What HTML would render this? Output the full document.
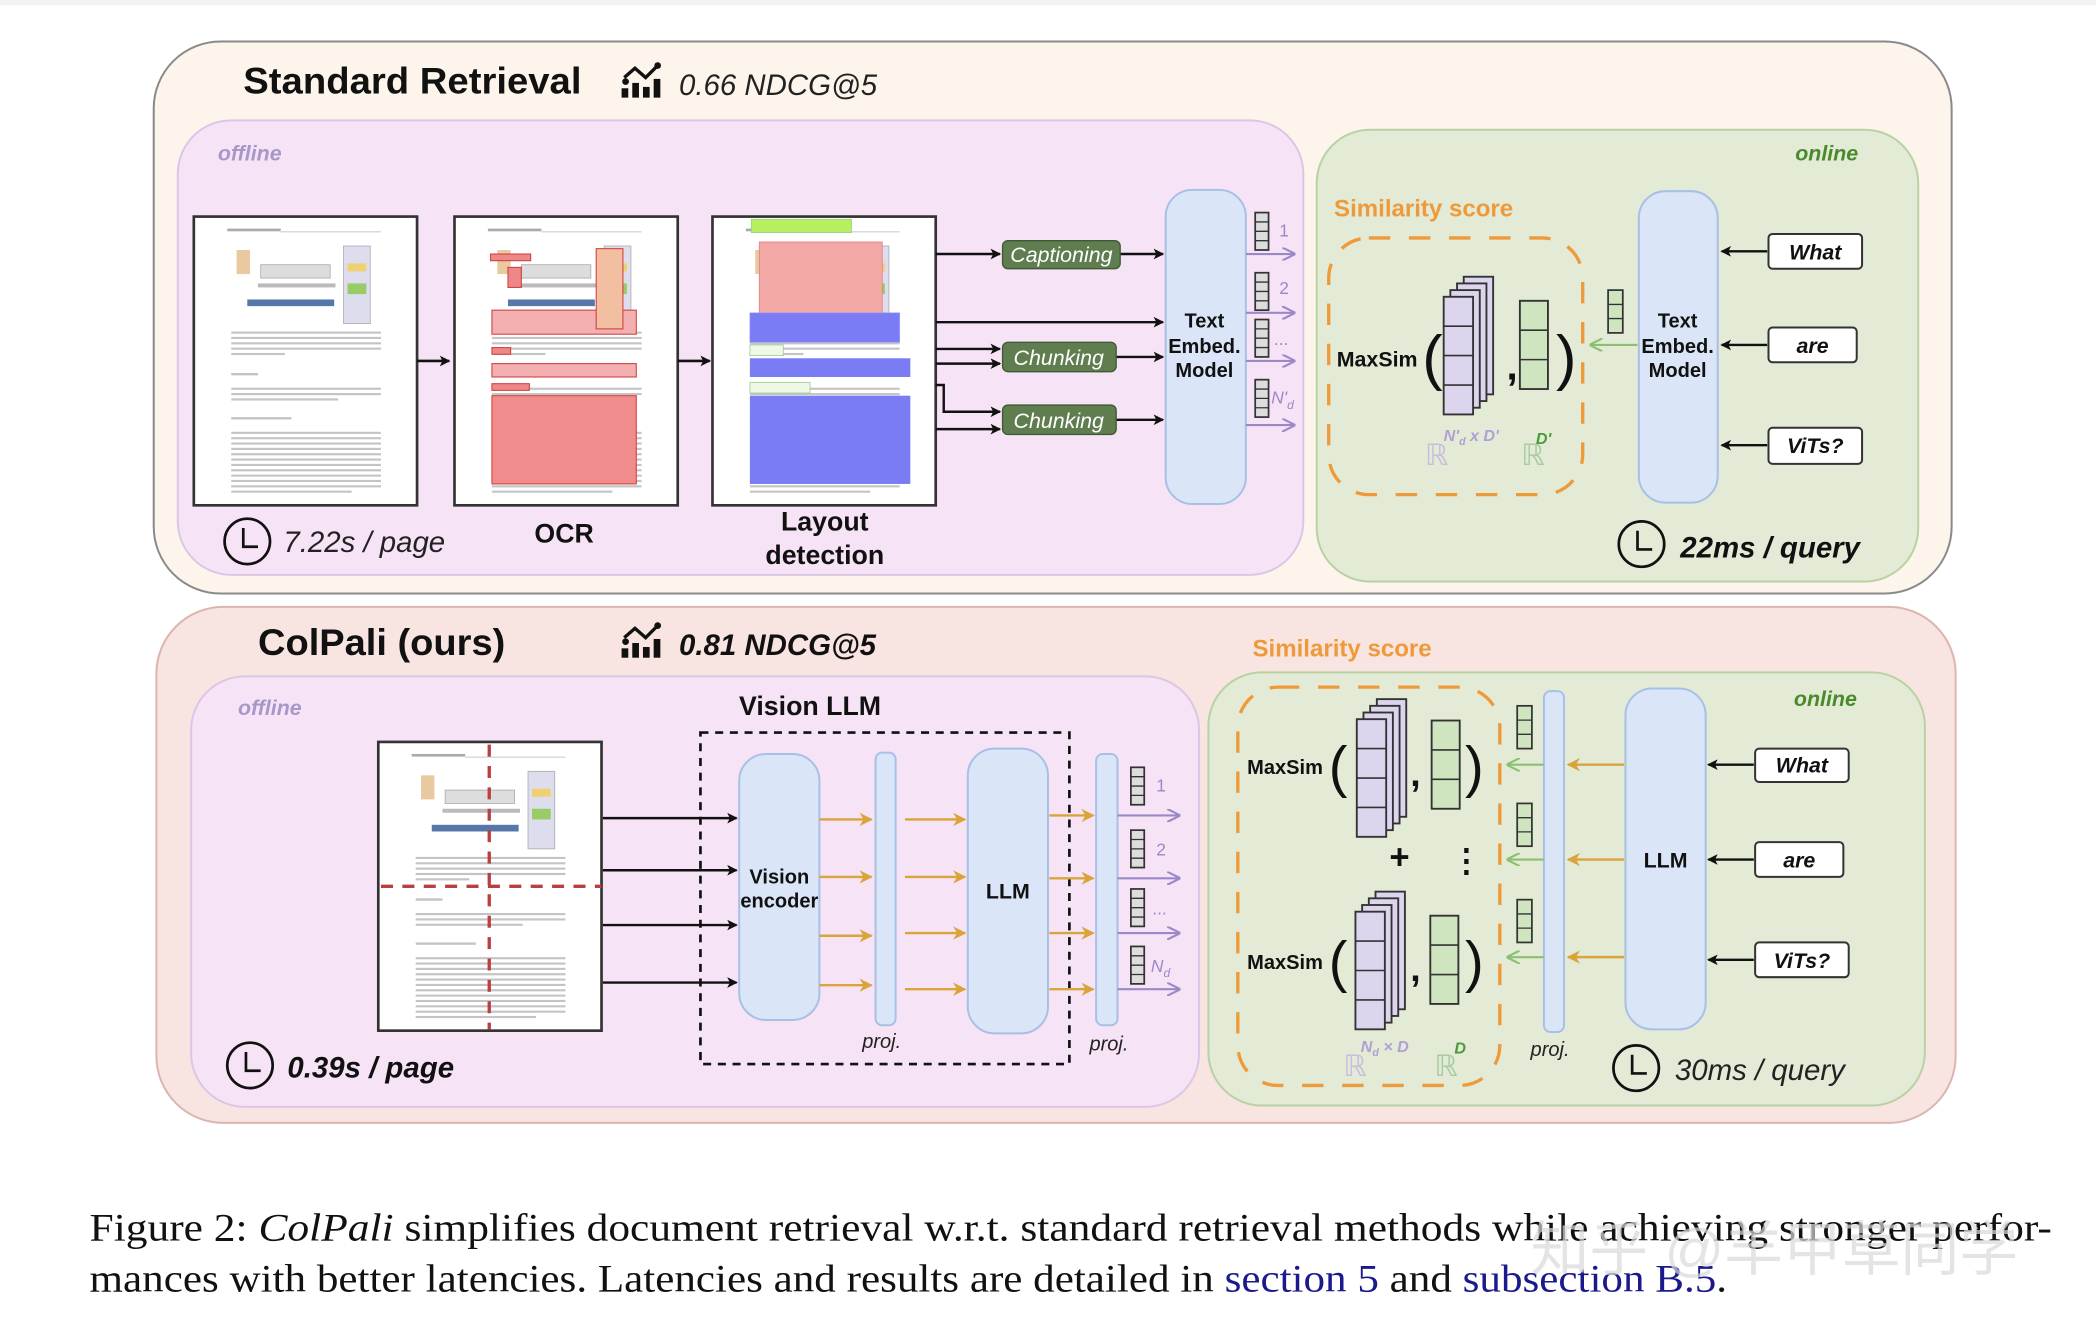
<!DOCTYPE html>
<html><head><meta charset="utf-8"><style>
html,body{margin:0;padding:0;background:#fff;}
svg{display:block;}
text{font-family:"Liberation Sans",Arial,sans-serif;}
text.serif{font-family:"Liberation Serif","Times New Roman",serif;}
text.wm{font-family:"Liberation Sans","Noto Sans CJK SC",sans-serif;}
</style></head><body>
<svg width="2096" height="1336" viewBox="0 0 1568 999.4" xmlns="http://www.w3.org/2000/svg">
<defs>
<marker id="ak" markerWidth="8" markerHeight="8" refX="7" refY="4" orient="auto" markerUnits="userSpaceOnUse"><path d="M0,0 L8,4 L0,8 L2,4 z" fill="#111"/></marker>
<marker id="ap" markerWidth="10" markerHeight="10" refX="9" refY="5" orient="auto" markerUnits="userSpaceOnUse"><path d="M0,0 L10,5 L0,10" fill="none" stroke="#9b88c9" stroke-width="1.6"/></marker>
<marker id="ao" markerWidth="10" markerHeight="10" refX="9" refY="5" orient="auto" markerUnits="userSpaceOnUse"><path d="M0,0 L10,5 L0,10 L3,5 z" fill="#d9a43a"/></marker>
<marker id="ag" markerWidth="10" markerHeight="10" refX="9" refY="5" orient="auto" markerUnits="userSpaceOnUse"><path d="M0,0 L10,5 L0,10" fill="none" stroke="#8cc070" stroke-width="1.6"/></marker>
<g id="doc">
<rect x="0" y="0" width="167" height="216" fill="#fff" stroke="#333" stroke-width="2"/>
<rect x="25" y="9" width="40" height="2" fill="#aaa"/><rect x="65" y="11" width="75" height="0.8" fill="#ccc"/>
<rect x="32" y="25" width="10" height="18" fill="#e8c9a0"/><rect x="50" y="36" width="52" height="10" fill="#ddd" stroke="#aaa" stroke-width="0.6"/>
<rect x="48" y="50" width="58" height="3" fill="#bbb"/><rect x="40" y="62" width="65" height="5" fill="#5577aa"/>
<rect x="112" y="22" width="20" height="58" fill="#dde" stroke="#aaa" stroke-width="0.6"/><rect x="115" y="35" width="14" height="6" fill="#f0d070"/><rect x="115" y="50" width="14" height="8" fill="#9c6"/>
<g fill="#c4c4c4">
<rect x="28" y="86" width="112" height="1.6"/><rect x="28" y="90" width="112" height="1.6"/><rect x="28" y="94" width="112" height="1.6"/><rect x="28" y="98" width="112" height="1.6"/><rect x="28" y="102" width="40" height="1.6"/>
<rect x="28" y="117" width="20" height="1.8"/>
<rect x="28" y="128" width="112" height="1.6"/><rect x="28" y="132" width="112" height="1.6"/><rect x="28" y="136" width="80" height="1.6"/>
<rect x="28" y="150" width="45" height="1.8"/>
<rect x="28" y="161" width="112" height="1.6"/><rect x="28" y="165" width="112" height="1.6"/><rect x="28" y="169" width="112" height="1.6"/><rect x="28" y="173" width="112" height="1.6"/><rect x="28" y="177" width="112" height="1.6"/><rect x="28" y="181" width="112" height="1.6"/><rect x="28" y="185" width="112" height="1.6"/><rect x="28" y="189" width="112" height="1.6"/><rect x="28" y="193" width="112" height="1.6"/><rect x="28" y="197" width="112" height="1.6"/><rect x="28" y="201" width="112" height="1.6"/><rect x="28" y="205" width="90" height="1.6"/>
</g></g>
<g id="pst">
<rect x="15" y="-15" width="22" height="88" fill="#ddd5ee" stroke="#333" stroke-width="1.4"/>
<rect x="10" y="-10" width="22" height="88" fill="#ddd5ee" stroke="#333" stroke-width="1.4"/>
<rect x="5" y="-5" width="22" height="88" fill="#ddd5ee" stroke="#333" stroke-width="1.4"/>
<rect x="0" y="0" width="22" height="88" fill="#ddd5ee" stroke="#333" stroke-width="1.4"/>
<path d="M0,22H22M0,44H22M0,66H22" stroke="#333" stroke-width="1.2"/>
</g>
<g id="gcol"><rect x="0" y="0" width="21" height="66" fill="#cfe5bf" stroke="#333" stroke-width="1.4"/><path d="M0,22H21M0,44H21" stroke="#333" stroke-width="1.2"/></g>
<g id="vp"><rect x="0" y="0" width="10" height="28" fill="#ddd" stroke="#333" stroke-width="1.3"/><path d="M0,7H10M0,14H10M0,21H10" stroke="#333" stroke-width="1"/></g>
<g id="vg"><rect x="0" y="0" width="11" height="32" fill="#cfe5bf" stroke="#333" stroke-width="1.3"/><path d="M0,10.7H11M0,21.3H11" stroke="#333" stroke-width="1"/></g>
<g id="clk"><circle cx="0" cy="0" r="17" fill="none" stroke="#111" stroke-width="2"/><path d="M-3,-10V4H8" fill="none" stroke="#111" stroke-width="2"/></g>
<g id="ico"><circle cx="3" cy="14" r="2.5" fill="#111"/><rect x="0" y="19" width="5" height="7" fill="#111"/><rect x="8" y="15" width="5" height="11" fill="#111"/><rect x="16" y="18" width="5" height="8" fill="#111"/><rect x="24" y="12" width="5" height="14" fill="#111"/><path d="M2,11 L10,4 L18,11 L27,2" fill="none" stroke="#111" stroke-width="2.5"/><circle cx="27" cy="2" r="2.5" fill="#111"/></g>
</defs>
<rect x="0" y="0" width="1568" height="4" fill="#f3f3f3"/>

<!-- ===== TOP ===== -->
<rect x="115" y="31" width="1345" height="413" rx="50" fill="#fdf5eb" stroke="#8a8a8a" stroke-width="1.5"/>
<text x="182" y="70" font-size="27.5" font-weight="bold" fill="#111" textLength="253" lengthAdjust="spacingAndGlyphs">Standard Retrieval</text>
<use href="#ico" x="465" y="47"/>
<text x="508" y="71" font-size="22" font-style="italic" fill="#222">0.66 NDCG@5</text>

<rect x="133" y="90" width="842" height="340" rx="40" fill="#f7e3f6" stroke="#dcc6e6" stroke-width="1.5"/>
<text x="163" y="120" font-size="16" font-style="italic" font-weight="bold" fill="#a898c8">offline</text>
<use href="#doc" x="145" y="162"/>
<use href="#doc" x="340" y="162"/>
<g fill="none" stroke="#d04040" stroke-width="0.8">
<rect x="367" y="190" width="30" height="5" fill="#e88" /><rect x="368" y="232" width="108" height="18" fill="#f4b0b0"/><rect x="368" y="260" width="14" height="5" fill="#e88"/><rect x="368" y="272" width="108" height="10" fill="#f4b0b0"/><rect x="368" y="287" width="28" height="5" fill="#e88"/><rect x="368" y="296" width="108" height="66" fill="#f08c8c"/>
<rect x="380" y="200" width="10" height="15" fill="#e88"/><rect x="446" y="186" width="20" height="60" fill="#f2c0a0"/>
</g>
<use href="#doc" x="533" y="162"/>
<g>
<rect x="562" y="164" width="75" height="10" fill="#b6f060" stroke="#8c8" stroke-width="0.5"/>
<rect x="568" y="181" width="92" height="60" fill="#f2a8a4" stroke="#e08080" stroke-width="0.6"/>
<rect x="561" y="234" width="112" height="22" fill="#7a7cf4" stroke="#99f" stroke-width="0.5"/>
<rect x="561" y="258" width="25" height="8" fill="#eef8e4" stroke="#9c9" stroke-width="0.6"/>
<rect x="561" y="268" width="120" height="14" fill="#7a7cf4"/>
<rect x="561" y="286" width="45" height="8" fill="#eef8e4" stroke="#9c9" stroke-width="0.6"/>
<rect x="561" y="296" width="120" height="66" fill="#7a7cf4"/>
</g>
<line x1="312" y1="270" x2="336" y2="270" stroke="#111" stroke-width="2" marker-end="url(#ak)"/>
<line x1="507" y1="270" x2="531" y2="270" stroke="#111" stroke-width="2" marker-end="url(#ak)"/>
<use href="#clk" x="185" y="405"/>
<text x="212" y="413" font-size="22" font-style="italic" fill="#222">7.22s / page</text>
<text x="422" y="406" font-size="20" font-weight="bold" text-anchor="middle" fill="#111">OCR</text>
<text x="617" y="397" font-size="20" font-weight="bold" text-anchor="middle" fill="#111">Layout</text>
<text x="617" y="422" font-size="20" font-weight="bold" text-anchor="middle" fill="#111">detection</text>
<g stroke="#111" stroke-width="1.8" fill="none">
<line x1="700" y1="190" x2="748" y2="190" marker-end="url(#ak)"/>
<line x1="700" y1="241" x2="870" y2="241" marker-end="url(#ak)"/>
<line x1="700" y1="261" x2="748" y2="261" marker-end="url(#ak)"/>
<line x1="700" y1="272" x2="748" y2="272" marker-end="url(#ak)"/>
<path d="M700,288 H706 V308 H748" marker-end="url(#ak)"/>
<line x1="700" y1="321" x2="748" y2="321" marker-end="url(#ak)"/>
<line x1="838" y1="190" x2="870" y2="190" marker-end="url(#ak)"/>
<line x1="835" y1="267" x2="870" y2="267" marker-end="url(#ak)"/>
<line x1="835" y1="314" x2="870" y2="314" marker-end="url(#ak)"/>
</g>
<g font-size="16" font-style="italic" fill="#fff" text-anchor="middle">
<rect x="750" y="180" width="88" height="21" rx="4" fill="#5f7d4f" stroke="#3e5a33"/><text x="794" y="196">Captioning</text>
<rect x="750" y="256" width="85" height="22" rx="4" fill="#5f7d4f" stroke="#3e5a33"/><text x="792" y="273">Chunking</text>
<rect x="750" y="303" width="85" height="22" rx="4" fill="#5f7d4f" stroke="#3e5a33"/><text x="792" y="320">Chunking</text>
</g>
<rect x="872" y="142" width="60" height="235" rx="20" fill="#dae6f8" stroke="#a8c0e6" stroke-width="1.5"/>
<g font-size="15" font-weight="bold" text-anchor="middle" fill="#111"><text x="901" y="245">Text</text><text x="901" y="264">Embed.</text><text x="901" y="282">Model</text></g>
<use href="#vp" x="939" y="159"/><use href="#vp" x="939" y="204"/><use href="#vp" x="939" y="239"/><use href="#vp" x="939" y="284"/>
<g fill="#9b88c9" font-size="13"><text x="957" y="177">1</text><text x="957" y="220">2</text><text x="953" y="258">...</text><text x="951" y="302" font-style="italic">N'<tspan font-size="9" dy="4">d</tspan></text></g>
<g stroke="#9b88c9" stroke-width="1.6"><line x1="932" y1="190" x2="968" y2="190" marker-end="url(#ap)"/><line x1="932" y1="234" x2="968" y2="234" marker-end="url(#ap)"/><line x1="932" y1="270" x2="968" y2="270" marker-end="url(#ap)"/><line x1="932" y1="318" x2="968" y2="318" marker-end="url(#ap)"/></g>

<rect x="985" y="97" width="450" height="338" rx="40" fill="#e3ead6" stroke="#b9d2a4" stroke-width="1.5"/>
<text x="1343" y="120" font-size="16" font-style="italic" font-weight="bold" fill="#4a8a2a">online</text>
<text x="998" y="162" font-size="18" font-weight="bold" fill="#ee9a3a">Similarity score</text>
<rect x="994" y="178" width="190" height="192" rx="30" fill="none" stroke="#ee9a3a" stroke-width="2.5" stroke-dasharray="16,14"/>
<text x="1000" y="274" font-size="16" font-weight="bold" fill="#111">MaxSim</text>
<text x="1064" y="283" font-size="46" fill="#111">(</text>
<use href="#pst" x="1080" y="222"/>
<text x="1127" y="284" font-size="30" font-weight="bold" fill="#111">,</text>
<use href="#gcol" x="1137" y="225"/>
<text x="1164" y="283" font-size="46" fill="#111">)</text>
<text class="serif" x="1066" y="348" font-size="22" fill="#c7bedc">ℝ</text>
<text x="1080" y="330" font-size="12" font-style="italic" font-weight="bold" fill="#b0a0d4">N'<tspan font-size="8" dy="3">d</tspan><tspan dy="-3"> x D'</tspan></text>
<text class="serif" x="1138" y="348" font-size="22" fill="#a8cca0">ℝ</text>
<text x="1149" y="332" font-size="12" font-style="italic" font-weight="bold" fill="#4a9a3a">D'</text>
<use href="#vg" x="1203" y="217"/>
<line x1="1225" y1="258" x2="1190" y2="258" stroke="#8cc070" stroke-width="1.6" marker-end="url(#ag)"/>
<rect x="1226" y="143" width="59" height="233" rx="20" fill="#dae6f8" stroke="#a8c0e6" stroke-width="1.5"/>
<g font-size="15" font-weight="bold" text-anchor="middle" fill="#111"><text x="1255" y="245">Text</text><text x="1255" y="264">Embed.</text><text x="1255" y="282">Model</text></g>
<g font-size="16" font-style="italic" font-weight="bold" text-anchor="middle" fill="#111">
<rect x="1323" y="175" width="70" height="26" rx="3" fill="#fff" stroke="#333" stroke-width="1.5"/><text x="1358" y="194">What</text>
<rect x="1323" y="245" width="66" height="26" rx="3" fill="#fff" stroke="#333" stroke-width="1.5"/><text x="1356" y="264">are</text>
<rect x="1323" y="320" width="70" height="27" rx="3" fill="#fff" stroke="#333" stroke-width="1.5"/><text x="1358" y="339">ViTs?</text>
</g>
<g stroke="#111" stroke-width="1.8"><line x1="1322" y1="188" x2="1288" y2="188" marker-end="url(#ak)"/><line x1="1322" y1="258" x2="1288" y2="258" marker-end="url(#ak)"/><line x1="1322" y1="333" x2="1288" y2="333" marker-end="url(#ak)"/></g>
<use href="#clk" x="1228" y="407"/>
<text x="1257" y="417" font-size="22" font-style="italic" font-weight="bold" fill="#111">22ms / query</text>

<!-- ===== BOTTOM ===== -->
<rect x="117" y="454" width="1346" height="386" rx="50" fill="#f8e4e0" stroke="#dcb5b0" stroke-width="1.5"/>
<text x="193" y="490" font-size="27.5" font-weight="bold" fill="#111" textLength="185" lengthAdjust="spacingAndGlyphs">ColPali (ours)</text>
<use href="#ico" x="465" y="466"/>
<text x="508" y="490" font-size="22" font-style="italic" font-weight="bold" fill="#111">0.81 NDCG@5</text>
<text x="937" y="491" font-size="18" font-weight="bold" fill="#ee9a3a">Similarity score</text>

<rect x="143" y="506" width="754" height="322" rx="40" fill="#f7e3f6" stroke="#dcc6e6" stroke-width="1.5"/>
<text x="178" y="535" font-size="16" font-style="italic" font-weight="bold" fill="#a898c8">offline</text>
<text x="606" y="535" font-size="20" font-weight="bold" text-anchor="middle" fill="#111">Vision LLM</text>
<rect x="524" y="548" width="276" height="248" fill="none" stroke="#111" stroke-width="2" stroke-dasharray="6,5"/>
<use href="#doc" x="283" y="555"/>
<line x1="285" y1="663" x2="450" y2="663" stroke="#b84040" stroke-width="2.5" stroke-dasharray="9,7"/>
<line x1="366" y1="557" x2="366" y2="770" stroke="#b84040" stroke-width="2.5" stroke-dasharray="9,7"/>
<g stroke="#111" stroke-width="1.8"><line x1="451" y1="612" x2="551" y2="612" marker-end="url(#ak)"/><line x1="451" y1="651" x2="551" y2="651" marker-end="url(#ak)"/><line x1="451" y1="692" x2="551" y2="692" marker-end="url(#ak)"/><line x1="451" y1="735" x2="551" y2="735" marker-end="url(#ak)"/></g>
<rect x="553" y="564" width="60" height="199" rx="20" fill="#dae6f8" stroke="#a8c0e6" stroke-width="1.5"/>
<g font-size="15" font-weight="bold" text-anchor="middle" fill="#111"><text x="583" y="661">Vision</text><text x="583" y="679">encoder</text></g>
<rect x="655" y="563" width="15" height="204" rx="5" fill="#dae6f8" stroke="#a8c0e6" stroke-width="1.5"/>
<rect x="724" y="560" width="60" height="213" rx="20" fill="#dae6f8" stroke="#a8c0e6" stroke-width="1.5"/>
<text x="754" y="672" font-size="16" font-weight="bold" text-anchor="middle" fill="#111">LLM</text>
<rect x="820" y="564" width="16" height="203" rx="5" fill="#dae6f8" stroke="#a8c0e6" stroke-width="1.5"/>
<g stroke="#d9a43a" stroke-width="1.8">
<line x1="613" y1="613" x2="652" y2="613" marker-end="url(#ao)"/><line x1="613" y1="656" x2="652" y2="656" marker-end="url(#ao)"/><line x1="613" y1="700" x2="652" y2="700" marker-end="url(#ao)"/><line x1="613" y1="737" x2="652" y2="737" marker-end="url(#ao)"/>
<line x1="677" y1="613" x2="722" y2="613" marker-end="url(#ao)"/><line x1="677" y1="656" x2="722" y2="656" marker-end="url(#ao)"/><line x1="677" y1="698" x2="722" y2="698" marker-end="url(#ao)"/><line x1="677" y1="740" x2="722" y2="740" marker-end="url(#ao)"/>
<line x1="785" y1="610" x2="818" y2="610" marker-end="url(#ao)"/><line x1="785" y1="657" x2="818" y2="657" marker-end="url(#ao)"/><line x1="785" y1="698" x2="818" y2="698" marker-end="url(#ao)"/><line x1="785" y1="740" x2="818" y2="740" marker-end="url(#ao)"/>
</g>
<text x="645" y="784" font-size="15" font-style="italic" fill="#222">proj.</text>
<text x="815" y="786" font-size="15" font-style="italic" fill="#222">proj.</text>
<use href="#vp" x="846" y="574"/><use href="#vp" x="846" y="621"/><use href="#vp" x="846" y="665"/><use href="#vp" x="846" y="708"/>
<g fill="#9b88c9" font-size="13"><text x="865" y="592">1</text><text x="865" y="640">2</text><text x="862" y="684">...</text><text x="861" y="727" font-style="italic">N<tspan font-size="9" dy="4">d</tspan></text></g>
<g stroke="#9b88c9" stroke-width="1.6"><line x1="836" y1="610" x2="882" y2="610" marker-end="url(#ap)"/><line x1="836" y1="657" x2="882" y2="657" marker-end="url(#ap)"/><line x1="836" y1="698" x2="882" y2="698" marker-end="url(#ap)"/><line x1="836" y1="740" x2="882" y2="740" marker-end="url(#ap)"/></g>
<use href="#clk" x="187" y="797"/>
<text x="215" y="806" font-size="22" font-style="italic" font-weight="bold" fill="#111">0.39s / page</text>

<rect x="904" y="503" width="536" height="324" rx="40" fill="#e3ead6" stroke="#b9d2a4" stroke-width="1.5"/>
<text x="1342" y="528" font-size="16" font-style="italic" font-weight="bold" fill="#4a8a2a">online</text>
<rect x="926" y="514" width="196" height="298" rx="30" fill="none" stroke="#ee9a3a" stroke-width="2.5" stroke-dasharray="16,14"/>
<text x="933" y="579" font-size="15" font-weight="bold" fill="#111">MaxSim</text>
<text x="994" y="588" font-size="42" fill="#111">(</text>
<use href="#pst" x="1015" y="538"/>
<text x="1055" y="588" font-size="28" font-weight="bold" fill="#111">,</text>
<use href="#gcol" x="1071" y="539"/>
<text x="1096" y="588" font-size="42" fill="#111">)</text>
<text x="1047" y="650" font-size="26" font-weight="bold" text-anchor="middle" fill="#111">+</text>
<text x="1097" y="652" font-size="24" font-weight="bold" text-anchor="middle" fill="#111">⋮</text>
<text x="933" y="725" font-size="15" font-weight="bold" fill="#111">MaxSim</text>
<text x="994" y="734" font-size="42" fill="#111">(</text>
<use href="#pst" x="1014" y="682"/>
<text x="1055" y="734" font-size="28" font-weight="bold" fill="#111">,</text>
<use href="#gcol" x="1070" y="685"/>
<text x="1096" y="734" font-size="42" fill="#111">)</text>
<text class="serif" x="1005" y="805" font-size="22" fill="#c7bedc">ℝ</text>
<text x="1018" y="787" font-size="12" font-style="italic" font-weight="bold" fill="#b0a0d4">N<tspan font-size="8" dy="3">d</tspan><tspan dy="-3"> × D</tspan></text>
<text class="serif" x="1073" y="805" font-size="22" fill="#a8cca0">ℝ</text>
<text x="1088" y="788" font-size="12" font-style="italic" font-weight="bold" fill="#4a9a3a">D</text>
<use href="#vg" x="1135" y="528"/><use href="#vg" x="1135" y="601"/><use href="#vg" x="1135" y="673"/>
<rect x="1155" y="517" width="15" height="255" rx="5" fill="#dae6f8" stroke="#a8c0e6" stroke-width="1.5"/>
<text x="1145" y="790" font-size="15" font-style="italic" fill="#222">proj.</text>
<g stroke="#d9a43a" stroke-width="1.8"><line x1="1215" y1="572" x2="1173" y2="572" marker-end="url(#ao)"/><line x1="1215" y1="643" x2="1173" y2="643" marker-end="url(#ao)"/><line x1="1215" y1="716" x2="1173" y2="716" marker-end="url(#ao)"/></g>
<g stroke="#8cc070" stroke-width="1.6"><line x1="1155" y1="572" x2="1128" y2="572" marker-end="url(#ag)"/><line x1="1155" y1="643" x2="1128" y2="643" marker-end="url(#ag)"/><line x1="1155" y1="716" x2="1128" y2="716" marker-end="url(#ag)"/></g>
<rect x="1216" y="515" width="60" height="255" rx="20" fill="#dae6f8" stroke="#a8c0e6" stroke-width="1.5"/>
<text x="1246" y="649" font-size="16" font-weight="bold" text-anchor="middle" fill="#111">LLM</text>
<g font-size="16" font-style="italic" font-weight="bold" text-anchor="middle" fill="#111">
<rect x="1313" y="560" width="70" height="25" rx="3" fill="#fff" stroke="#333" stroke-width="1.5"/><text x="1348" y="578">What</text>
<rect x="1313" y="630" width="66" height="26" rx="3" fill="#fff" stroke="#333" stroke-width="1.5"/><text x="1346" y="649">are</text>
<rect x="1313" y="705" width="70" height="26" rx="3" fill="#fff" stroke="#333" stroke-width="1.5"/><text x="1348" y="724">ViTs?</text>
</g>
<g stroke="#111" stroke-width="1.8"><line x1="1312" y1="572" x2="1278" y2="572" marker-end="url(#ak)"/><line x1="1312" y1="643" x2="1278" y2="643" marker-end="url(#ak)"/><line x1="1312" y1="718" x2="1278" y2="718" marker-end="url(#ak)"/></g>
<use href="#clk" x="1224" y="799"/>
<text x="1253" y="808" font-size="22" font-style="italic" fill="#222">30ms / query</text>

<!-- caption -->
<g font-size="29" fill="#111">
<text class="serif" x="67" y="928" textLength="1468" lengthAdjust="spacingAndGlyphs">Figure 2: <tspan font-style="italic">ColPali</tspan> simplifies document retrieval w.r.t. standard retrieval methods while achieving stronger perfor-</text>
<text class="serif" x="67" y="966" textLength="1225" lengthAdjust="spacingAndGlyphs">mances with better latencies. Latencies and results are detailed in <tspan fill="#1a1a8c">section 5</tspan> and <tspan fill="#1a1a8c">subsection B.5</tspan>.</text>
</g>
<text class="wm" x="1145" y="950" font-size="44" fill="#d8d8d8" fill-opacity="0.7">知乎 @羊甲草同学</text>
</svg>
</body></html>
